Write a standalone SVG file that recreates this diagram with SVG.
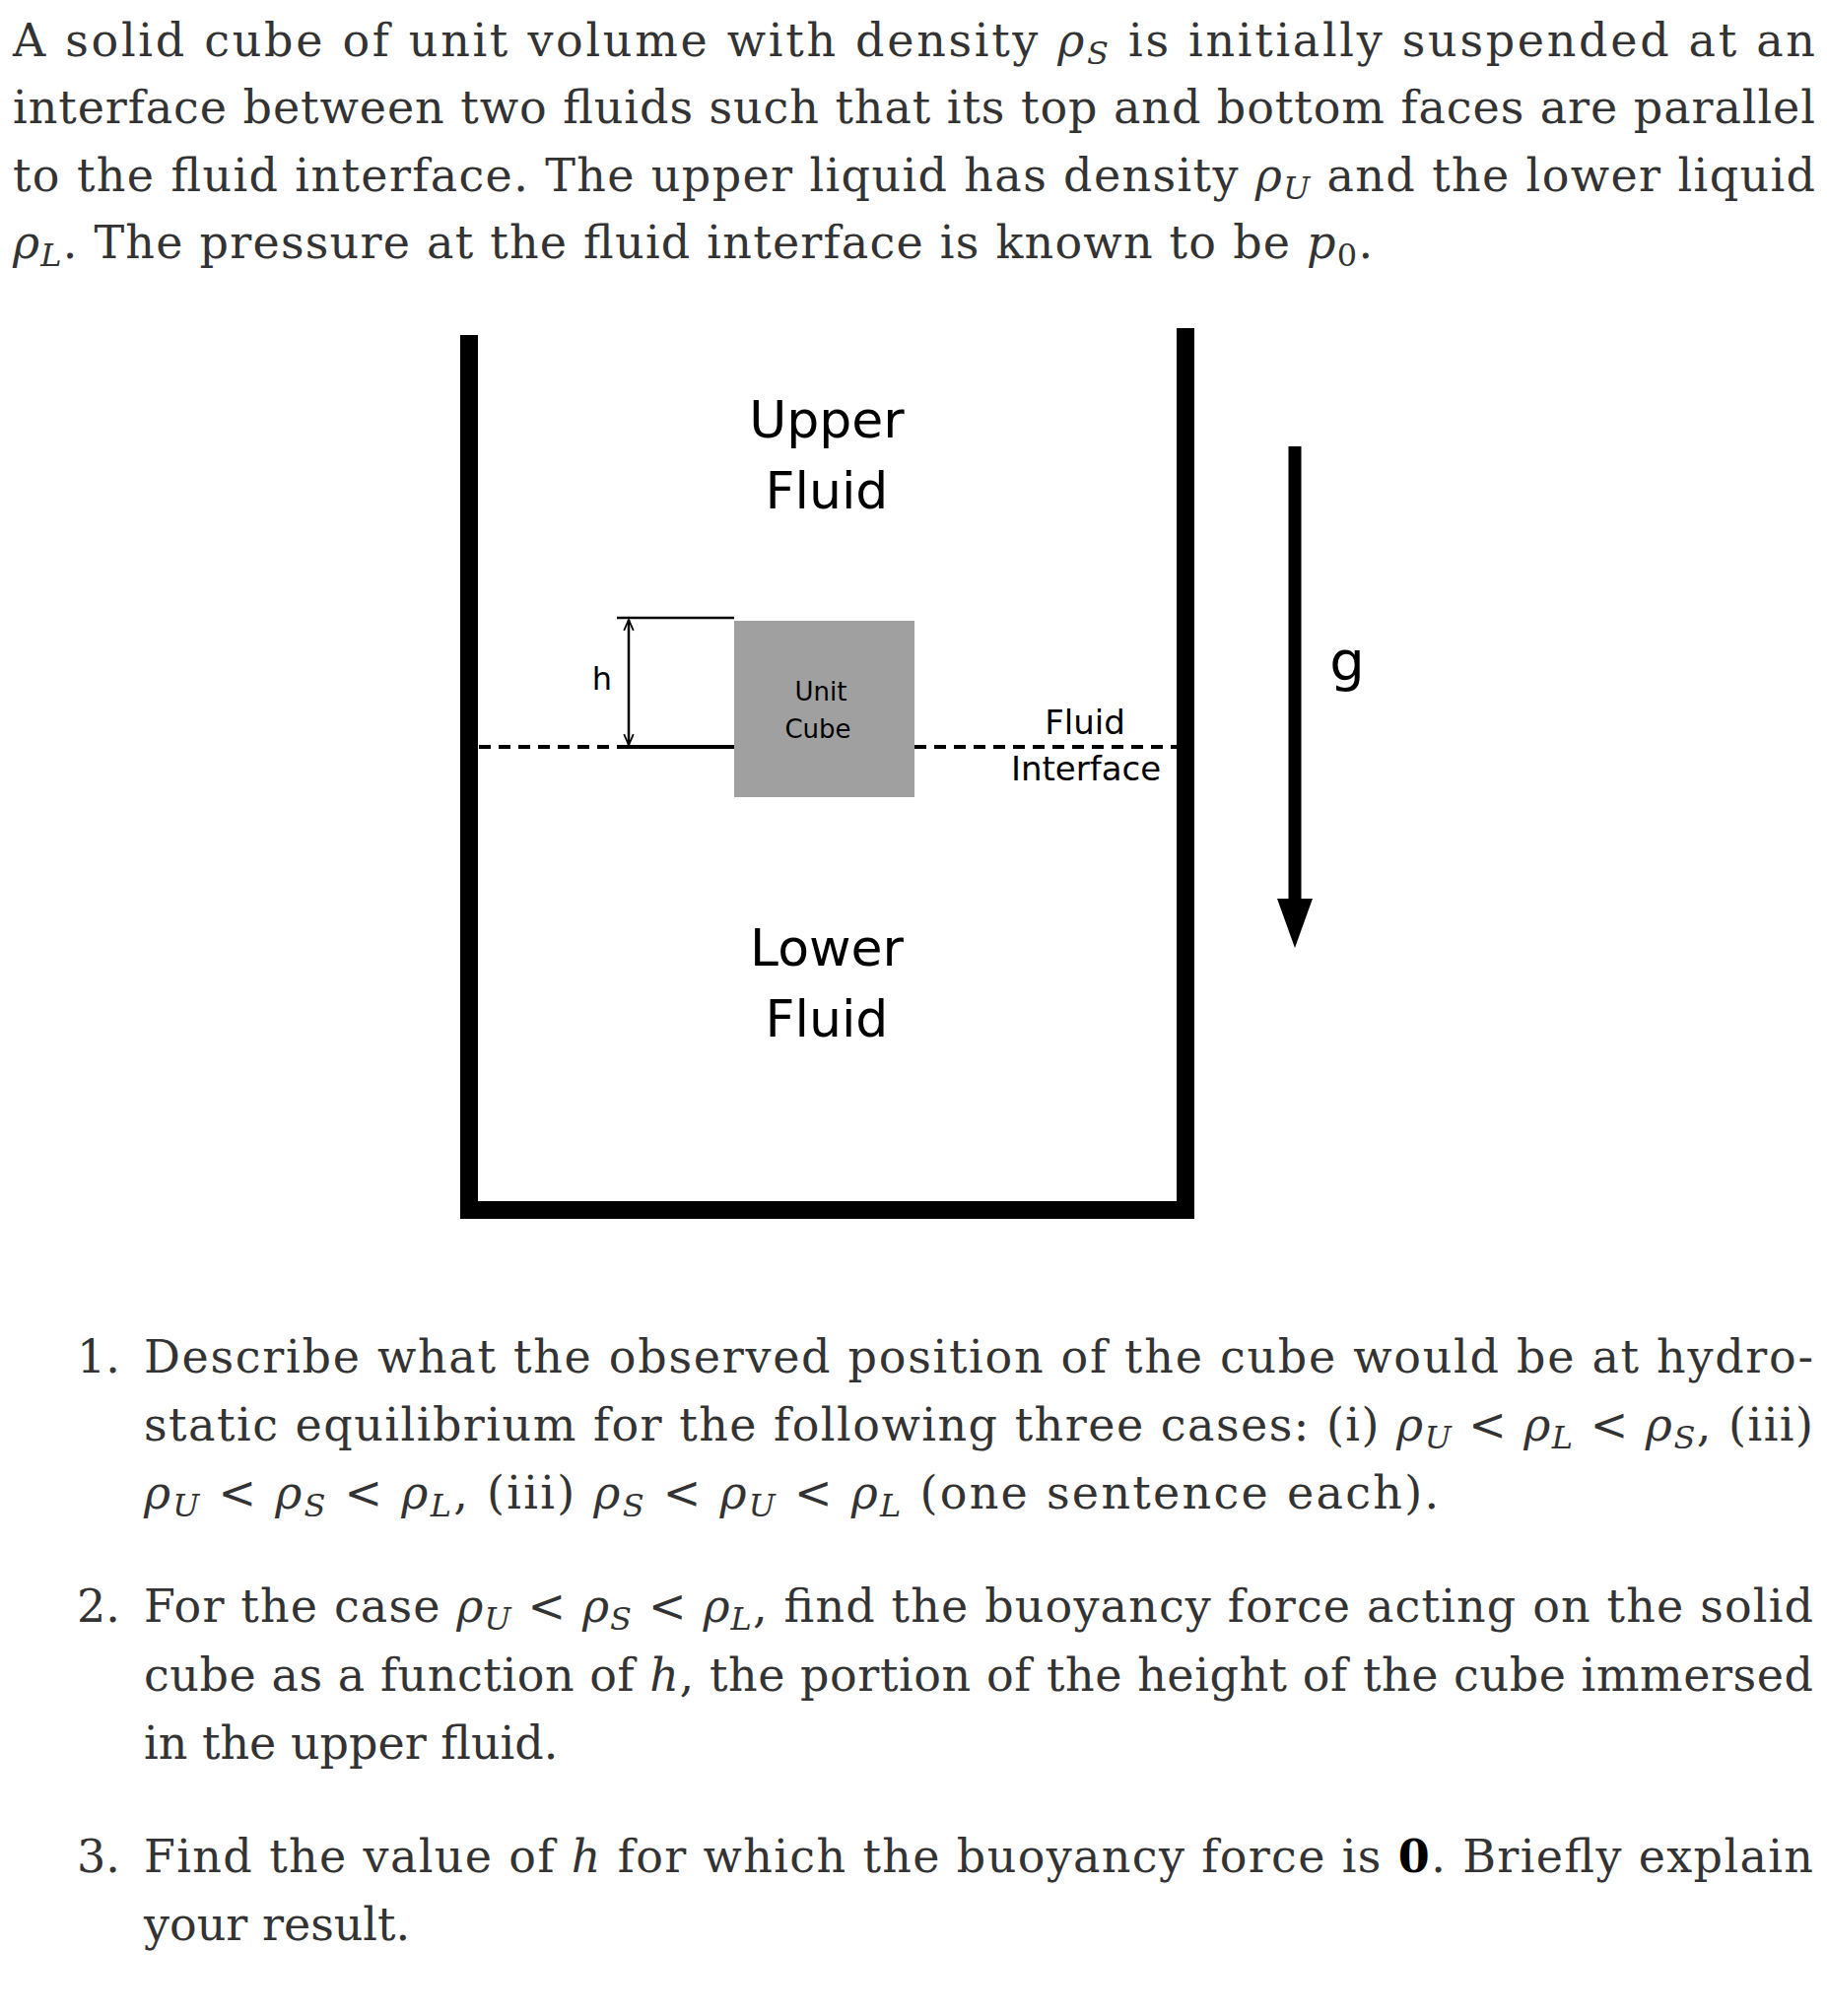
<svg xmlns="http://www.w3.org/2000/svg" width="1854" height="2046" viewBox="0 0 1854 2046">
<style>
.p{font-family:"DejaVu Serif","Liberation Serif",serif;font-size:46px;fill:#333}
.i{font-style:italic}
.s{font-size:32px}
.d{font-family:"DejaVu Sans",sans-serif;fill:#000}
.w{stroke:#000;stroke-width:18;fill:none}
</style>
<defs>
<marker id="a" viewBox="0 0 10 10" refX="9" refY="5" markerWidth="16" markerHeight="12" orient="auto-start-reverse" markerUnits="userSpaceOnUse"><path d="M0,1 L9,5 L0,9" fill="none" stroke="#000" stroke-width="1.5"/></marker>
</defs>
<rect width="1854" height="2046" fill="#fff"/>
<g id="intro">
<text class="p" x="13" y="57" textLength="1829" lengthAdjust="spacing">A solid cube of unit volume with density <tspan class="i">ρ</tspan><tspan class="i s" dy="8">S</tspan><tspan dy="-8"> is initially suspended at an</tspan></text>
<text class="p" x="13" y="125" textLength="1829" lengthAdjust="spacing">interface between two fluids such that its top and bottom faces are parallel</text>
<text class="p" x="13" y="194" textLength="1829" lengthAdjust="spacing">to the fluid interface. The upper liquid has density <tspan class="i">ρ</tspan><tspan class="i s" dy="8">U</tspan><tspan dy="-8"> and the lower liquid</tspan></text>
<text class="p" x="13" y="262" textLength="1380" lengthAdjust="spacing"><tspan class="i">ρ</tspan><tspan class="i s" dy="8">L</tspan><tspan dy="-8">. The pressure at the fluid interface is known to be </tspan><tspan class="i">p</tspan><tspan class="s" dy="8">0</tspan><tspan dy="-8">.</tspan></text>
</g>
<g id="container">
<path class="w" d="M476,340 V1228 H1203 V333"/>
</g>
<g id="cube">
<rect x="745" y="630" width="183" height="179" fill="#a0a0a0"/>
<text class="d" x="833" y="711" font-size="26" text-anchor="middle">Unit</text>
<text class="d" x="830" y="749" font-size="26" text-anchor="middle">Cube</text>
</g>
<g id="labels">
<text class="d" x="839" y="444" font-size="52" text-anchor="middle">Upper</text>
<text class="d" x="839" y="516" font-size="52" text-anchor="middle">Fluid</text>
<text class="d" x="839" y="980" font-size="52" text-anchor="middle">Lower</text>
<text class="d" x="839" y="1052" font-size="52" text-anchor="middle">Fluid</text>
<text class="d" x="1101" y="745" font-size="34" text-anchor="middle">Fluid</text>
<text class="d" x="1102" y="792" font-size="34" text-anchor="middle">Interface</text>
<text class="d" x="611" y="700" font-size="32" text-anchor="middle">h</text>
<text class="d" x="1367" y="690" font-size="56" text-anchor="middle">g</text>
</g>
<g id="connectors">
<line x1="486" y1="758" x2="745" y2="758" stroke="#000" stroke-width="4" stroke-dasharray="12,8"/>
<line x1="628" y1="758" x2="745" y2="758" stroke="#000" stroke-width="4"/>
<line x1="928" y1="758" x2="1194" y2="758" stroke="#000" stroke-width="4" stroke-dasharray="12,8"/>
<line x1="626" y1="627" x2="745" y2="627" stroke="#000" stroke-width="2.5"/>
<line x1="638" y1="629" x2="638" y2="756" stroke="#000" stroke-width="2.5" marker-start="url(#a)" marker-end="url(#a)"/>
<line x1="1314" y1="453" x2="1314" y2="920" stroke="#000" stroke-width="13"/>
<path d="M1296,912 L1332,912 L1314,962 Z" fill="#000"/>
</g>
<g id="questions">
<text class="p" x="78" y="1393">1.</text>
<text class="p" x="146" y="1393" textLength="1694" lengthAdjust="spacing">Describe what the observed position of the cube would be at hydro-</text>
<text class="p" x="146" y="1462" textLength="1694" lengthAdjust="spacing">static equilibrium for the following three cases: (i) <tspan class="i">ρ</tspan><tspan class="i s" dy="8">U</tspan><tspan dy="-8"> &lt; </tspan><tspan class="i">ρ</tspan><tspan class="i s" dy="8">L</tspan><tspan dy="-8"> &lt; </tspan><tspan class="i">ρ</tspan><tspan class="i s" dy="8">S</tspan><tspan dy="-8">, (iii)</tspan></text>
<text class="p" x="146" y="1531" textLength="1314" lengthAdjust="spacing"><tspan class="i">ρ</tspan><tspan class="i s" dy="8">U</tspan><tspan dy="-8"> &lt; </tspan><tspan class="i">ρ</tspan><tspan class="i s" dy="8">S</tspan><tspan dy="-8"> &lt; </tspan><tspan class="i">ρ</tspan><tspan class="i s" dy="8">L</tspan><tspan dy="-8">, (iii) </tspan><tspan class="i">ρ</tspan><tspan class="i s" dy="8">S</tspan><tspan dy="-8"> &lt; </tspan><tspan class="i">ρ</tspan><tspan class="i s" dy="8">U</tspan><tspan dy="-8"> &lt; </tspan><tspan class="i">ρ</tspan><tspan class="i s" dy="8">L</tspan><tspan dy="-8"> (one sentence each).</tspan></text>
<text class="p" x="78" y="1646">2.</text>
<text class="p" x="146" y="1646" textLength="1694" lengthAdjust="spacing">For the case <tspan class="i">ρ</tspan><tspan class="i s" dy="8">U</tspan><tspan dy="-8"> &lt; </tspan><tspan class="i">ρ</tspan><tspan class="i s" dy="8">S</tspan><tspan dy="-8"> &lt; </tspan><tspan class="i">ρ</tspan><tspan class="i s" dy="8">L</tspan><tspan dy="-8">, find the buoyancy force acting on the solid</tspan></text>
<text class="p" x="146" y="1716" textLength="1694" lengthAdjust="spacing">cube as a function of <tspan class="i">h</tspan>, the portion of the height of the cube immersed</text>
<text class="p" x="146" y="1785">in the upper fluid.</text>
<text class="p" x="78" y="1900">3.</text>
<text class="p" x="146" y="1900" textLength="1694" lengthAdjust="spacing">Find the value of <tspan class="i">h</tspan> for which the buoyancy force is <tspan font-weight="bold" fill="#000">0</tspan>. Briefly explain</text>
<text class="p" x="146" y="1969">your result.</text>
</g>
</svg>
